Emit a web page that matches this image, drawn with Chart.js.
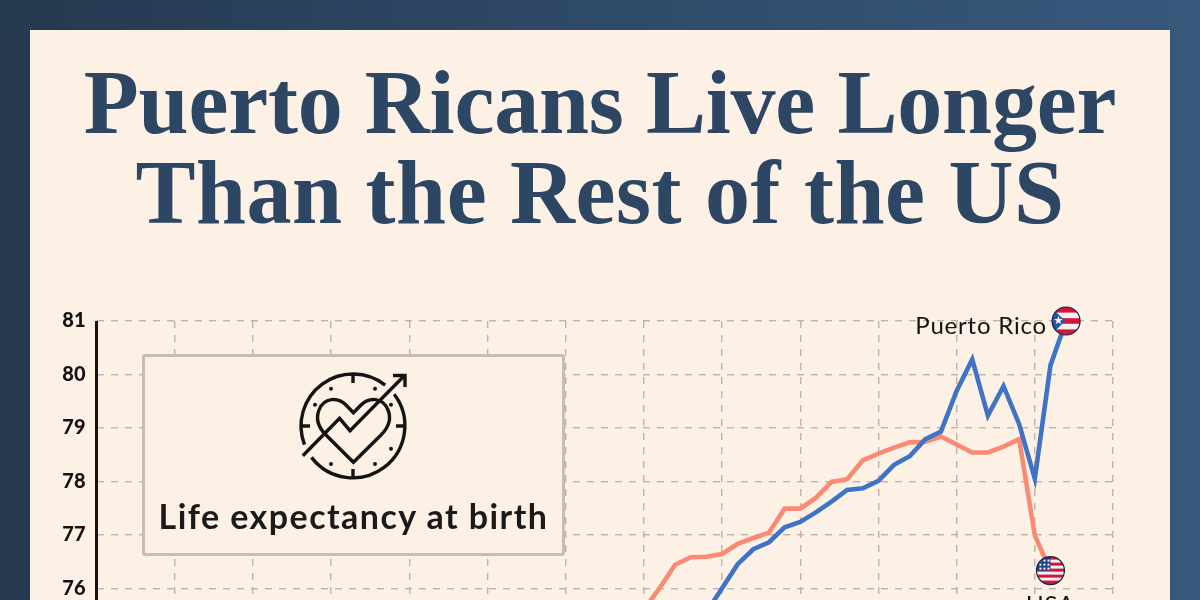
<!DOCTYPE html>
<html lang="en">
<head>
  <meta charset="UTF-8">
  <title>Puerto Ricans Live Longer Than the Rest of the US</title>
  <script src="https://cdn.jsdelivr.net/npm/chart.js"></script>
  <style>
    html, body { margin: 0; padding: 0; width: 1200px; height: 600px; overflow: hidden; }
    #page { position: relative; width: 1200px; height: 600px; overflow: hidden;
            background: linear-gradient(90deg, #25394f 0%, #2f4a68 50%, #38587c 100%); }
    #panel { position: absolute; left: 30px; top: 30px; width: 1140px; height: 600px; background: #fdf1e6; }
    .title { position: absolute; left: 0; width: 1200px; text-align: center; color: #2d4663; white-space: nowrap;
             font: bold 90px "Liberation Serif", serif; line-height: 90px; letter-spacing: -0.2px; }
    #chartWrap { position: absolute; left: 0; top: 0; width: 1200px; height: 700px; }
    #infoBox { position: absolute; left: 142px; top: 354px; width: 417px; height: 196px; background: #fdf1e6;
               border: 3px solid #c8bdb1; border-radius: 3px; }
    #infoLabel { position: absolute; left: 142px; top: 496px; width: 423px; text-align: center; color: #1c1a19;
                 font: bold 34px Lato, sans-serif; letter-spacing: 1.45px; line-height: 40px; white-space: nowrap; }
    #icon { position: absolute; left: 295px; top: 368px; width: 120px; height: 116px; }
  </style>
</head>
<body>
  <div id="page">
    <div id="panel"></div>
    <div class="title" style="top: 58px">Puerto Ricans Live Longer</div>
    <div class="title" style="top: 148px; letter-spacing: 0.5px">Than the Rest of the US</div>
    <div id="chartWrap"><canvas id="myChart" width="1200" height="700"></canvas></div>
    <div id="infoBox"></div>
    <svg id="icon" viewBox="295 368 120 116" fill="none" stroke="#161413" stroke-width="3.4">
      <path d="M394.2 394.3 A52 52 0 1 1 311.5 457.4" />
      <path d="M304.5 444.6 A52 52 0 0 1 385.2 385.1" />
      <path d="M353 374v9M353 478v-9M301 426h9M405 426h-9" />
      <path d="M353.4 412.7L346 405C338 397 324 397 319 410C315 420 319 428 326 435L353.4 462.3L381 435C388 428 392 420 388 410C383 397 369 397 361 405Z" />
      <path d="M302.8 455.7L339.6 418.3L350 430.7L404 376" />
      <path d="M393 375.5H405V387" />
      <g fill="#161413" stroke="none">
        <circle cx="331" cy="388.7" r="2" /><circle cx="375" cy="388.7" r="2" />
        <circle cx="315" cy="404.7" r="2" /><circle cx="391" cy="404.7" r="2" />
        <circle cx="391" cy="448.7" r="2" /><circle cx="331" cy="464" r="2" />
        <circle cx="375" cy="464" r="2" />
      </g>
    </svg>
    <div id="infoLabel">Life expectancy at birth</div>
  </div>

  <script>
    const usaYears = [1995, 1996, 1997, 1998, 1999, 2000, 2001, 2002, 2003, 2004, 2005, 2006, 2007, 2008,
      2009, 2010, 2011, 2012, 2013, 2014, 2015, 2016, 2017, 2018, 2019, 2020, 2021];
    const usaValues = [75.6, 76.0, 76.44, 76.58, 76.59, 76.64, 76.83, 76.94, 77.04, 77.49, 77.49, 77.69, 77.99, 78.04,
      78.39, 78.52, 78.63, 78.73, 78.74, 78.84, 78.69, 78.54, 78.54, 78.65, 78.79, 76.99, 76.33];

    const prYears = [1999, 2000, 2001, 2002, 2003, 2004, 2005, 2006, 2007, 2008, 2009, 2010, 2011,
      2012, 2013, 2014, 2015, 2016, 2017, 2018, 2019, 2020, 2021, 2022];
    const prValues = [75.55, 76.0, 76.45, 76.73, 76.86, 77.14, 77.24, 77.42, 77.62, 77.84, 77.87, 78.01, 78.31,
      78.47, 78.79, 78.93, 79.69, 80.28, 79.23, 79.78, 79.07, 78.05, 80.17, 81.0];

    const puertoRicoLabel = 'Puerto Rico';
    const usaLabel = 'USA';

    function toPoints(xs, ys) {
      return xs.map((x, i) => ({ x: x, y: ys[i] }));
    }

    // round flag, clipped to a circle, with a dark outline
    function drawFlag(ctx, cx, cy, r, paint) {
      ctx.save();
      ctx.beginPath();
      ctx.arc(cx, cy, r, 0, Math.PI * 2);
      ctx.clip();
      ctx.fillStyle = '#f1f1f3';
      ctx.fillRect(cx - r, cy - r, r * 2, r * 2);
      paint();
      ctx.restore();
      ctx.beginPath();
      ctx.arc(cx, cy, r, 0, Math.PI * 2);
      ctx.lineWidth = 1.2;
      ctx.strokeStyle = '#1d2240';
      ctx.stroke();
    }

    function stripes(ctx, cx, cy, r, rows) {
      ctx.fillStyle = '#d3163a';
      rows.forEach(row => ctx.fillRect(cx - r, cy - r + row[0], r * 2, row[1]));
    }

    const flagsPlugin = {
      id: 'flags',
      afterDatasetsDraw(chart) {
        const ctx = chart.ctx;
        const xs = chart.scales.x;
        const ys = chart.scales.y;
        const last = prYears.length - 1;
        const prX = xs.getPixelForValue(prYears[last]);
        const prY = ys.getPixelForValue(prValues[last]);
        const usX = xs.getPixelForValue(usaYears[usaYears.length - 1]);
        const usY = ys.getPixelForValue(usaValues[usaValues.length - 1]);

        drawFlag(ctx, prX, prY, 14, () => {
          stripes(ctx, prX, prY, 14, [[0, 5.6], [11.2, 5.6], [22.4, 5.6]]);
          ctx.fillStyle = '#1f58a8';
          ctx.beginPath();
          ctx.moveTo(prX - 14, prY - 13);
          ctx.lineTo(prX - 1, prY);
          ctx.lineTo(prX - 14, prY + 13);
          ctx.closePath();
          ctx.fill();
          ctx.fillStyle = '#ffffff';
          ctx.font = '11px "DejaVu Sans"';
          ctx.textAlign = 'center';
          ctx.textBaseline = 'middle';
          ctx.fillText('★', prX - 7.6, prY);
        });

        drawFlag(ctx, usX, usY, 14, () => {
          stripes(ctx, usX, usY, 14, [[0, 3], [6, 3], [12, 3], [18, 3], [24, 4]]);
          ctx.fillStyle = '#1f3f8f';
          ctx.fillRect(usX - 14, usY - 14, 14, 14);
          ctx.fillStyle = '#ffffff';
          for (let row = 0; row < 3; row++) {
            for (let col = 0; col < 3; col++) {
              ctx.fillRect(usX - 11 + col * 4, usY - 11 + row * 4, 2, 2);
            }
          }
        });

        ctx.save();
        ctx.fillStyle = '#161413';
        ctx.font = '24px Lato, sans-serif';
        ctx.letterSpacing = '0.8px';
        ctx.textBaseline = 'alphabetic';
        ctx.textAlign = 'right';
        ctx.fillText(puertoRicoLabel, 1047, 334);
        ctx.textAlign = 'center';
        ctx.fillText(usaLabel, usX, 613);
        ctx.restore();
      }
    };

    new Chart(document.getElementById('myChart').getContext('2d'), {
      type: 'line',
      data: {
        datasets: [
          {
            label: puertoRicoLabel,
            data: toPoints(prYears, prValues),
            borderColor: '#3f73c6',
            borderWidth: 4.6,
            pointRadius: 0,
            tension: 0,
            borderJoinStyle: 'miter'
          },
          {
            label: usaLabel,
            data: toPoints(usaYears, usaValues),
            borderColor: '#fb8a74',
            borderWidth: 4.6,
            pointRadius: 0,
            tension: 0,
            borderJoinStyle: 'miter'
          }
        ]
      },
      options: {
        responsive: false,
        animation: false,
        layout: { padding: { left: 30, right: 87, top: 321, bottom: 0 } },
        plugins: { legend: { display: false }, tooltip: { enabled: false } },
        scales: {
          x: {
            type: 'linear',
            min: 1960,
            max: 2025,
            afterFit(scale) { scale.height = 58.3; },
            ticks: {
              stepSize: 5,
              color: '#161413',
              font: { family: 'Lato', size: 18, weight: 'bold' },
              callback: v => String(v)
            },
            grid: { color: '#bdb3a9', lineWidth: 1.4, tickLength: 0 },
            border: { dash: [7, 7], display: false }
          },
          y: {
            min: 75,
            max: 81,
            afterFit(scale) { scale.width = 66.5; },
            ticks: {
              stepSize: 1,
              padding: 11,
              color: '#161413',
              font: { family: 'Lato', size: 20, weight: '900' }
            },
            grid: { color: '#bdb3a9', lineWidth: 1.4, tickLength: 0 },
            border: { dash: [7, 7], display: false }
          }
        }
      },
      plugins: [flagsPlugin, {
        // solid black axis on the left, the grid itself stays dashed
        id: 'leftAxis',
        afterDatasetsDraw(chart) {
          const ctx = chart.ctx;
          const area = chart.chartArea;
          ctx.save();
          ctx.strokeStyle = '#161413';
          ctx.lineWidth = 3;
          ctx.beginPath();
          ctx.moveTo(area.left, area.top);
          ctx.lineTo(area.left, area.bottom);
          ctx.stroke();
          ctx.restore();
        }
      }]
    });
  </script>
</body>
</html>
